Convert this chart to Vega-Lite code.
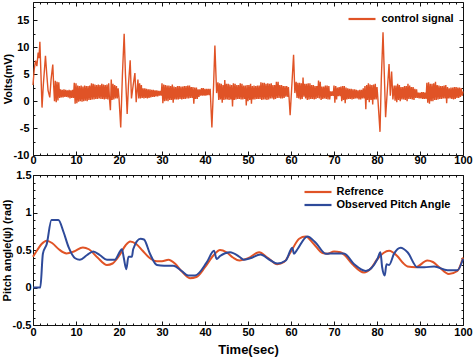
{
  "$schema": "https://vega.github.io/schema/vega-lite/v6.json",
  "padding": {"left": 0, "top": 1, "right": 0, "bottom": 0},
  "spacing": 2,
  "config": {
    "font": "Liberation Sans",
    "view": {"stroke": "#111", "strokeWidth": 1},
    "axis": {"labelFont": "Liberation Sans", "labelFontWeight": "bold", "labelFontSize": 11, "labelColor": "#000", "titleFont": "Liberation Sans", "titleFontWeight": "bold", "titleFontSize": 11, "titleColor": "#000", "tickColor": "#111", "tickWidth": 1, "grid": false, "domain": false, "labelExpr": "'' + datum.value"},
    "legend": {"labelFont": "Liberation Sans", "labelFontWeight": "bold", "labelFontSize": 11, "labelColor": "#000"}
  },
  "datasets": {
    "ctrl": [
      {"t":0,"v":3},{"t":0.3,"v":6},{"t":0.6,"v":7.5},{"t":0.9,"v":6.5},{"t":1.2,"v":9},{"t":1.4,"v":8},{"t":1.6,"v":11},{"t":1.85,"v":5},{"t":2.1,"v":-1.2},{"t":2.4,"v":3},{"t":2.9,"v":8.4},{"t":3.2,"v":5},{"t":3.5,"v":2},{"t":3.9,"v":0.7},{"t":4.2,"v":4},{"t":4.6,"v":6.8},{"t":4.8,"v":3},
      {"t":5.0,"v":0},{"t":5.2,"v":3.8},{"t":5.4,"v":-0.2},{"t":5.6,"v":3.6},{"t":5.8,"v":0.1},{"t":6.0,"v":3.5},{"t":6.2,"v":0.6},{"t":6.4,"v":2.2},{"t":6.6,"v":0.7},{"t":6.8,"v":2.1},{"t":7.0,"v":0.7},{"t":7.2,"v":2.2},{"t":7.4,"v":0.8},{"t":7.6,"v":2.1},{"t":7.8,"v":0.8},{"t":8.0,"v":2.0},{"t":8.2,"v":0.7},{"t":8.4,"v":2.1},{"t":8.6,"v":0.5},{"t":8.8,"v":2.0},{"t":9.0,"v":0.6},{"t":9.2,"v":2.1},{"t":9.4,"v":0.6},{"t":9.6,"v":3.4},{"t":9.8,"v":-0.5},{"t":10.0,"v":3.3},{"t":10.2,"v":-0.4},{"t":10.4,"v":2.9},{"t":10.6,"v":-0.1},{"t":10.8,"v":2.8},{"t":11.0,"v":0},{"t":11.2,"v":2.9},{"t":11.4,"v":-0.1},{"t":11.6,"v":2.7},{"t":11.8,"v":0},{"t":12.0,"v":2.9},{"t":12.2,"v":0.1},{"t":12.4,"v":2.8},{"t":12.6,"v":0},{"t":12.8,"v":2.8},{"t":13.0,"v":0.2},{"t":13.2,"v":2.9},{"t":13.4,"v":0.2},{"t":13.6,"v":3.3},{"t":13.8,"v":0.3},{"t":14.0,"v":3.2},{"t":14.2,"v":0.3},{"t":14.4,"v":3.1},{"t":14.6,"v":0.4},{"t":14.8,"v":3.0},{"t":15.0,"v":0.4},{"t":15.2,"v":3.1},{"t":15.4,"v":0.5},{"t":15.6,"v":3.0},{"t":15.8,"v":0.4},{"t":16.0,"v":3.2},{"t":16.2,"v":0.4},{"t":16.4,"v":3.1},{"t":16.6,"v":0.3},{"t":16.8,"v":3.0},{"t":17.0,"v":0.4},{"t":17.2,"v":3.1},{"t":17.4,"v":0.3},{"t":17.6,"v":3.3},{"t":17.8,"v":0.2},{"t":18.0,"v":-1.7},{"t":18.2,"v":4.0},{"t":18.4,"v":0.2},{"t":18.6,"v":3.2},{"t":18.8,"v":0.3},{"t":19.0,"v":3.0},{"t":19.2,"v":0.5},{"t":19.4,"v":2.8},{"t":19.6,"v":0.5},{"t":19.8,"v":2.4},{"t":20.0,"v":0.6},
      {"t":20.4,"v":-4.9},{"t":20.8,"v":5},{"t":21.2,"v":12.5},{"t":21.5,"v":5},{"t":21.9,"v":-2.4},{"t":22.2,"v":3},{"t":22.6,"v":7.6},{"t":22.9,"v":0.5},{"t":23.3,"v":3},{"t":23.7,"v":5.2},{"t":24.0,"v":-0.2},{"t":24.4,"v":4},{"t":24.6,"v":0.5},{"t":24.8,"v":3.3},
      {"t":25.0,"v":0.5},{"t":25.2,"v":3.0},{"t":25.4,"v":0.6},{"t":25.6,"v":2.4},{"t":25.8,"v":0.5},{"t":26.0,"v":2.4},{"t":26.2,"v":0.6},{"t":26.4,"v":2.3},{"t":26.6,"v":0.5},{"t":26.8,"v":2.2},{"t":27.0,"v":0.6},{"t":27.2,"v":2.2},{"t":27.4,"v":0.7},{"t":27.6,"v":2.1},{"t":27.8,"v":0.8},{"t":28.0,"v":2.1},{"t":28.2,"v":0.8},{"t":28.4,"v":2.0},{"t":28.6,"v":0.9},{"t":28.8,"v":2.0},{"t":29.0,"v":0.9},{"t":29.2,"v":1.9},{"t":29.4,"v":1.0},{"t":29.6,"v":1.9},{"t":29.8,"v":1.0},{"t":30.0,"v":3.3},{"t":30.2,"v":-0.4},{"t":30.4,"v":3.1},{"t":30.6,"v":0.0},{"t":30.8,"v":3.0},{"t":31.0,"v":0.1},{"t":31.2,"v":2.9},{"t":31.4,"v":0.0},{"t":31.6,"v":2.9},{"t":31.8,"v":0.2},{"t":32.0,"v":2.8},{"t":32.2,"v":0.2},{"t":32.4,"v":3.1},{"t":32.6,"v":-0.3},{"t":32.8,"v":2.7},{"t":33.0,"v":0.3},{"t":33.2,"v":2.6},{"t":33.4,"v":0.3},{"t":33.6,"v":2.8},{"t":33.8,"v":0.3},{"t":34.0,"v":2.8},{"t":34.2,"v":0.4},{"t":34.4,"v":2.7},{"t":34.6,"v":0.3},{"t":34.8,"v":2.7},{"t":35.0,"v":0.4},{"t":35.2,"v":2.8},{"t":35.4,"v":0.4},{"t":35.6,"v":2.8},{"t":35.8,"v":0.5},{"t":36.0,"v":2.9},{"t":36.2,"v":0.5},{"t":36.4,"v":2.9},{"t":36.6,"v":0.6},{"t":36.8,"v":2.6},{"t":37.0,"v":0.6},{"t":37.2,"v":2.6},{"t":37.4,"v":-0.5},{"t":37.6,"v":2.5},{"t":37.8,"v":0.4},{"t":38.0,"v":2.5},{"t":38.2,"v":0.4},{"t":38.4,"v":2.2},{"t":38.6,"v":0.8},{"t":38.8,"v":2.2},{"t":39.0,"v":1.0},{"t":39.2,"v":2.4},{"t":39.4,"v":1.0},{"t":39.6,"v":2.4},{"t":39.8,"v":1.0},{"t":40.0,"v":2.3},{"t":40.2,"v":1.0},{"t":40.4,"v":2.3},{"t":40.6,"v":1.1},{"t":40.8,"v":2.3},{"t":41.0,"v":1.1},{"t":41.2,"v":2.3},
      {"t":41.6,"v":-4.9},{"t":42.0,"v":3},{"t":42.3,"v":10.3},{"t":42.7,"v":1.5},
      {"t":43.0,"v":3.5},{"t":43.2,"v":0.2},{"t":43.4,"v":3.3},{"t":43.6,"v":0.3},{"t":43.8,"v":3.2},{"t":44.0,"v":-0.3},{"t":44.2,"v":3.0},{"t":44.4,"v":0.2},{"t":44.6,"v":3.9},{"t":44.8,"v":0.3},{"t":45.0,"v":3.2},{"t":45.2,"v":0.3},{"t":45.4,"v":3.2},{"t":45.6,"v":0.2},{"t":45.8,"v":3.1},{"t":46.0,"v":0.3},{"t":46.2,"v":3.0},{"t":46.4,"v":-1.0},{"t":46.6,"v":3.3},{"t":46.8,"v":0.2},{"t":47.0,"v":3.2},{"t":47.2,"v":0.3},{"t":47.4,"v":3.0},{"t":47.6,"v":0.4},{"t":47.8,"v":3.0},{"t":48.0,"v":0.4},{"t":48.2,"v":3.3},{"t":48.4,"v":0.3},{"t":48.6,"v":3.2},{"t":48.8,"v":0.3},{"t":49.0,"v":2.9},{"t":49.2,"v":0.4},{"t":49.4,"v":2.9},{"t":49.6,"v":-0.8},{"t":49.8,"v":3.0},{"t":50.0,"v":0.0},{"t":50.2,"v":3.0},{"t":50.4,"v":0.2},{"t":50.6,"v":3.2},{"t":50.8,"v":-0.5},{"t":51.0,"v":2.8},{"t":51.2,"v":0.3},{"t":51.4,"v":2.9},{"t":51.6,"v":0.3},{"t":51.8,"v":2.8},{"t":52.0,"v":0.4},{"t":52.2,"v":2.9},{"t":52.4,"v":0.4},{"t":52.6,"v":2.9},{"t":52.8,"v":0.4},{"t":53.0,"v":3.5},{"t":53.2,"v":0.2},{"t":53.4,"v":3.4},{"t":53.6,"v":0.3},{"t":53.8,"v":3.4},{"t":54.0,"v":0.3},{"t":54.2,"v":3.2},{"t":54.4,"v":0.2},{"t":54.6,"v":3.3},{"t":54.8,"v":0.3},{"t":55.0,"v":3.2},{"t":55.2,"v":0.5},{"t":55.4,"v":3.3},{"t":55.6,"v":0.5},{"t":55.8,"v":3.0},{"t":56.0,"v":0.3},{"t":56.2,"v":3.0},{"t":56.4,"v":0.4},{"t":56.6,"v":3.6},{"t":56.8,"v":0.6},{"t":57.0,"v":3.6},{"t":57.2,"v":0.6},{"t":57.4,"v":3.0},{"t":57.6,"v":0.5},{"t":57.8,"v":3.0},{"t":58.0,"v":0.5},{"t":58.2,"v":2.8},{"t":58.4,"v":0.6},{"t":58.6,"v":2.8},{"t":58.8,"v":0.8},{"t":59.0,"v":2.8},{"t":59.2,"v":0.8},{"t":59.4,"v":2.6},
      {"t":59.8,"v":-2.6},{"t":60.2,"v":3},{"t":60.6,"v":8.6},{"t":60.9,"v":1.5},
      {"t":61.2,"v":3.6},{"t":61.4,"v":0.6},{"t":61.6,"v":3.4},{"t":61.8,"v":0.5},{"t":62.0,"v":3.4},{"t":62.2,"v":0.3},{"t":62.4,"v":3.3},{"t":62.6,"v":0.4},{"t":62.8,"v":4.4},{"t":63.0,"v":0.8},{"t":63.2,"v":3.2},{"t":63.4,"v":0.5},{"t":63.6,"v":3.2},{"t":63.8,"v":0.2},{"t":64.0,"v":3.3},{"t":64.2,"v":0.3},{"t":64.4,"v":3.3},{"t":64.6,"v":0.4},{"t":64.8,"v":3.0},{"t":65.0,"v":0.4},{"t":65.2,"v":3.0},{"t":65.4,"v":0.3},{"t":65.6,"v":2.8},{"t":65.8,"v":0.4},{"t":66.0,"v":2.8},{"t":66.2,"v":0.6},{"t":66.4,"v":3.8},{"t":66.6,"v":0.5},{"t":66.8,"v":3.6},{"t":67.0,"v":0.2},{"t":67.2,"v":2.7},{"t":67.4,"v":0.4},{"t":67.6,"v":2.7},{"t":67.8,"v":0.5},{"t":68.0,"v":2.9},{"t":68.2,"v":0.4},{"t":68.4,"v":2.9},{"t":68.6,"v":0.3},{"t":68.8,"v":2.8},{"t":69.0,"v":0.3},{"t":69.2,"v":1.8},{"t":69.4,"v":1.0},{"t":69.6,"v":1.8},{"t":69.8,"v":1.0},{"t":70.0,"v":2.9},{"t":70.2,"v":-0.3},{"t":70.4,"v":2.8},{"t":70.6,"v":0.3},{"t":70.8,"v":2.5},{"t":71.0,"v":0.9},{"t":71.2,"v":2.6},{"t":71.4,"v":0.9},{"t":71.6,"v":2.7},{"t":71.8,"v":0.0},{"t":72.0,"v":2.8},{"t":72.2,"v":0.2},{"t":72.4,"v":2.8},{"t":72.6,"v":-0.4},{"t":72.8,"v":2.5},{"t":73.0,"v":0.3},{"t":73.2,"v":2.4},{"t":73.4,"v":0.4},{"t":73.6,"v":2.3},{"t":73.8,"v":0.4},{"t":74.0,"v":2.3},{"t":74.2,"v":0.3},{"t":74.4,"v":2.2},{"t":74.6,"v":0.4},{"t":74.8,"v":2.2},{"t":75.0,"v":0.5},{"t":75.2,"v":2.1},{"t":75.4,"v":0.5},{"t":75.6,"v":2.0},{"t":75.8,"v":0.3},{"t":76.0,"v":2.1},{"t":76.2,"v":0.3},{"t":76.4,"v":2.1},{"t":76.6,"v":0.5},{"t":76.8,"v":2.4},{"t":77.0,"v":0.5},{"t":77.2,"v":2.8},{"t":77.4,"v":-1.5},{"t":77.6,"v":3.0},{"t":77.8,"v":0.2},{"t":78.0,"v":3.3},{"t":78.2,"v":-0.2},{"t":78.4,"v":3.1},{"t":78.6,"v":0.2},{"t":78.8,"v":3.0},{"t":79.0,"v":-0.6},{"t":79.2,"v":3.1},{"t":79.4,"v":0.3},{"t":79.6,"v":3.2},{"t":79.8,"v":0.3},{"t":80.0,"v":2.6},{"t":80.2,"v":0.5},
      {"t":80.7,"v":-5.7},{"t":81.0,"v":4},{"t":81.4,"v":12.8},{"t":81.7,"v":5},{"t":82.0,"v":-3.0},{"t":82.4,"v":2},{"t":82.8,"v":6.9},{"t":83.1,"v":1.0},{"t":83.4,"v":5.5},{"t":83.7,"v":0.3},
      {"t":84.0,"v":2.9},{"t":84.2,"v":0.1},{"t":84.4,"v":2.9},{"t":84.6,"v":-0.2},{"t":84.8,"v":3.2},{"t":85.0,"v":0.2},{"t":85.2,"v":3.0},{"t":85.4,"v":0.0},{"t":85.6,"v":2.6},{"t":85.8,"v":0.3},{"t":86.0,"v":2.6},{"t":86.2,"v":0.3},{"t":86.4,"v":2.8},{"t":86.6,"v":0.2},{"t":86.8,"v":2.8},{"t":87.0,"v":0.0},{"t":87.2,"v":3.2},{"t":87.4,"v":0.4},{"t":87.6,"v":2.9},{"t":87.8,"v":0.4},{"t":88.0,"v":2.6},{"t":88.2,"v":0.3},{"t":88.4,"v":2.6},{"t":88.6,"v":0.2},{"t":88.8,"v":2.3},{"t":89.0,"v":0.6},{"t":89.2,"v":2.2},{"t":89.4,"v":0.6},{"t":89.6,"v":1.6},{"t":89.8,"v":0.5},{"t":90.0,"v":1.6},{"t":90.2,"v":0.5},{"t":90.4,"v":1.7},{"t":90.6,"v":0.4},{"t":90.8,"v":1.7},{"t":91.0,"v":0.4},{"t":91.2,"v":1.6},{"t":91.4,"v":0.4},{"t":91.6,"v":3.4},{"t":91.8,"v":-0.3},{"t":92.0,"v":3.5},{"t":92.2,"v":-0.5},{"t":92.4,"v":3.2},{"t":92.6,"v":0.0},{"t":92.8,"v":3.2},{"t":93.0,"v":0.0},{"t":93.2,"v":3.3},{"t":93.4,"v":0.2},{"t":93.6,"v":3.6},{"t":93.8,"v":0.2},{"t":94.0,"v":3.0},{"t":94.2,"v":0.3},{"t":94.4,"v":2.9},{"t":94.6,"v":0.4},{"t":94.8,"v":2.8},{"t":95.0,"v":0.4},{"t":95.2,"v":2.8},{"t":95.4,"v":0.5},{"t":95.6,"v":2.9},{"t":95.8,"v":0.5},{"t":96.0,"v":3.0},{"t":96.2,"v":-0.4},{"t":96.4,"v":2.6},{"t":96.6,"v":0.5},{"t":96.8,"v":2.4},{"t":97.0,"v":0.5},{"t":97.2,"v":2.5},{"t":97.4,"v":0.4},{"t":97.6,"v":2.5},{"t":97.8,"v":0.3},{"t":98.0,"v":2.6},{"t":98.2,"v":0.4},{"t":98.4,"v":2.6},{"t":98.6,"v":0.6},{"t":98.8,"v":2.5},{"t":99.0,"v":0.6},{"t":99.2,"v":2.5},{"t":99.4,"v":0.8},{"t":99.6,"v":2.4},{"t":99.8,"v":1.0},{"t":100,"v":1.8}
    ],
    "pitch": [
      {"s":"Refrence","t":0,"v":0.41},{"s":"Refrence","t":1,"v":0.5},{"s":"Refrence","t":2,"v":0.58},{"s":"Refrence","t":3.2,"v":0.625},{"s":"Refrence","t":4.5,"v":0.59},{"s":"Refrence","t":6,"v":0.51},{"s":"Refrence","t":7.8,"v":0.455},{"s":"Refrence","t":9.5,"v":0.48},{"s":"Refrence","t":11.6,"v":0.535},{"s":"Refrence","t":13,"v":0.51},{"s":"Refrence","t":15,"v":0.4},{"s":"Refrence","t":17.2,"v":0.3},{"s":"Refrence","t":18.5,"v":0.32},{"s":"Refrence","t":20,"v":0.42},{"s":"Refrence","t":21.5,"v":0.56},{"s":"Refrence","t":22.6,"v":0.615},{"s":"Refrence","t":24,"v":0.58},{"s":"Refrence","t":25.5,"v":0.49},{"s":"Refrence","t":27,"v":0.4},{"s":"Refrence","t":28.8,"v":0.35},{"s":"Refrence","t":30,"v":0.35},{"s":"Refrence","t":31.5,"v":0.37},{"s":"Refrence","t":33,"v":0.32},{"s":"Refrence","t":34.5,"v":0.22},{"s":"Refrence","t":36.5,"v":0.125},{"s":"Refrence","t":38,"v":0.14},{"s":"Refrence","t":40,"v":0.27},{"s":"Refrence","t":42,"v":0.43},{"s":"Refrence","t":43.5,"v":0.5},{"s":"Refrence","t":45,"v":0.47},{"s":"Refrence","t":46.5,"v":0.4},{"s":"Refrence","t":48,"v":0.36},{"s":"Refrence","t":50,"v":0.39},{"s":"Refrence","t":52.6,"v":0.47},{"s":"Refrence","t":54.5,"v":0.4},{"s":"Refrence","t":56.8,"v":0.31},{"s":"Refrence","t":58.4,"v":0.34},{"s":"Refrence","t":60,"v":0.48},{"s":"Refrence","t":61.9,"v":0.65},{"s":"Refrence","t":63.4,"v":0.68},{"s":"Refrence","t":65.3,"v":0.58},{"s":"Refrence","t":67.3,"v":0.46},{"s":"Refrence","t":68.5,"v":0.45},{"s":"Refrence","t":70,"v":0.48},{"s":"Refrence","t":71.5,"v":0.47},{"s":"Refrence","t":72.5,"v":0.43},{"s":"Refrence","t":74.3,"v":0.31},{"s":"Refrence","t":77,"v":0.2},{"s":"Refrence","t":78.5,"v":0.25},{"s":"Refrence","t":80.1,"v":0.38},{"s":"Refrence","t":81.5,"v":0.46},{"s":"Refrence","t":82.8,"v":0.49},{"s":"Refrence","t":84.7,"v":0.42},{"s":"Refrence","t":86,"v":0.33},{"s":"Refrence","t":87.1,"v":0.28},{"s":"Refrence","t":89,"v":0.27},{"s":"Refrence","t":91.7,"v":0.36},{"s":"Refrence","t":93,"v":0.34},{"s":"Refrence","t":94.5,"v":0.27},{"s":"Refrence","t":96.7,"v":0.18},{"s":"Refrence","t":98.7,"v":0.22},{"s":"Refrence","t":100,"v":0.4},
      {"s":"Observed Pitch Angle","t":0,"v":0},{"s":"Observed Pitch Angle","t":1.7,"v":0},{"s":"Observed Pitch Angle","t":2.3,"v":0.45},{"s":"Observed Pitch Angle","t":3.2,"v":0.58},{"s":"Observed Pitch Angle","t":4.3,"v":0.9},{"s":"Observed Pitch Angle","t":5.9,"v":0.9},{"s":"Observed Pitch Angle","t":7.1,"v":0.74},{"s":"Observed Pitch Angle","t":8.3,"v":0.535},{"s":"Observed Pitch Angle","t":9.8,"v":0.39},{"s":"Observed Pitch Angle","t":10.9,"v":0.37},{"s":"Observed Pitch Angle","t":12.5,"v":0.43},{"s":"Observed Pitch Angle","t":14,"v":0.48},{"s":"Observed Pitch Angle","t":15.6,"v":0.43},{"s":"Observed Pitch Angle","t":17.2,"v":0.37},{"s":"Observed Pitch Angle","t":19,"v":0.37},{"s":"Observed Pitch Angle","t":20.7,"v":0.51},{"s":"Observed Pitch Angle","t":21.1,"v":0.4},{"s":"Observed Pitch Angle","t":21.7,"v":0.245},{"s":"Observed Pitch Angle","t":22.2,"v":0.41},{"s":"Observed Pitch Angle","t":23,"v":0.41},{"s":"Observed Pitch Angle","t":23.3,"v":0.51},{"s":"Observed Pitch Angle","t":25,"v":0.65},{"s":"Observed Pitch Angle","t":25.8,"v":0.64},{"s":"Observed Pitch Angle","t":27.2,"v":0.45},{"s":"Observed Pitch Angle","t":28.8,"v":0.3},{"s":"Observed Pitch Angle","t":30.5,"v":0.29},{"s":"Observed Pitch Angle","t":32.6,"v":0.29},{"s":"Observed Pitch Angle","t":34.6,"v":0.22},{"s":"Observed Pitch Angle","t":36.1,"v":0.16},{"s":"Observed Pitch Angle","t":37.7,"v":0.16},{"s":"Observed Pitch Angle","t":40.4,"v":0.335},{"s":"Observed Pitch Angle","t":42.1,"v":0.49},{"s":"Observed Pitch Angle","t":42.7,"v":0.38},{"s":"Observed Pitch Angle","t":43.5,"v":0.42},{"s":"Observed Pitch Angle","t":45.8,"v":0.47},{"s":"Observed Pitch Angle","t":48,"v":0.41},{"s":"Observed Pitch Angle","t":49,"v":0.37},{"s":"Observed Pitch Angle","t":50.5,"v":0.39},{"s":"Observed Pitch Angle","t":52.9,"v":0.44},{"s":"Observed Pitch Angle","t":55,"v":0.37},{"s":"Observed Pitch Angle","t":56.8,"v":0.32},{"s":"Observed Pitch Angle","t":58.8,"v":0.36},{"s":"Observed Pitch Angle","t":60.3,"v":0.53},{"s":"Observed Pitch Angle","t":60.7,"v":0.45},{"s":"Observed Pitch Angle","t":61.5,"v":0.51},{"s":"Observed Pitch Angle","t":63.8,"v":0.68},{"s":"Observed Pitch Angle","t":65.7,"v":0.6},{"s":"Observed Pitch Angle","t":68.1,"v":0.45},{"s":"Observed Pitch Angle","t":70,"v":0.455},{"s":"Observed Pitch Angle","t":72.3,"v":0.455},{"s":"Observed Pitch Angle","t":74.7,"v":0.31},{"s":"Observed Pitch Angle","t":77.4,"v":0.22},{"s":"Observed Pitch Angle","t":80.1,"v":0.38},{"s":"Observed Pitch Angle","t":80.8,"v":0.47},{"s":"Observed Pitch Angle","t":81.2,"v":0.27},{"s":"Observed Pitch Angle","t":81.8,"v":0.16},{"s":"Observed Pitch Angle","t":82.2,"v":0.31},{"s":"Observed Pitch Angle","t":82.8,"v":0.3},{"s":"Observed Pitch Angle","t":84,"v":0.455},{"s":"Observed Pitch Angle","t":85.5,"v":0.53},{"s":"Observed Pitch Angle","t":87.1,"v":0.47},{"s":"Observed Pitch Angle","t":89.4,"v":0.27},{"s":"Observed Pitch Angle","t":91,"v":0.27},{"s":"Observed Pitch Angle","t":93.3,"v":0.28},{"s":"Observed Pitch Angle","t":96.4,"v":0.23},{"s":"Observed Pitch Angle","t":98.7,"v":0.23},{"s":"Observed Pitch Angle","t":100,"v":0.38}
    ]
  },
  "vconcat": [
    {
      "width": 430, "height": 153,
      "data": {"name": "ctrl"},
      "layer": [
        {
          "mark": {"type": "line", "strokeWidth": 1.4, "interpolate": "linear"},
          "encoding": {
            "x": {"field": "t", "type": "quantitative", "scale": {"domain": [0, 100], "nice": false}, "axis": {"orient": "bottom", "values": [0,10,20,30,40,50,60,70,80,90,100], "tickSize": -4, "labelPadding": 3, "labelFlush": false, "title": null}},
            "y": {"field": "v", "type": "quantitative", "scale": {"domain": [-10, 18.4], "nice": false, "zero": false}, "axis": {"orient": "left", "values": [-10,-5,0,5,10,15], "tickSize": -4, "labelPadding": 8, "title": "Volts(mV)", "titlePadding": 0}},
            "color": {"datum": "control signal", "type": "nominal", "scale": {"range": ["#E05326"]}, "legend": {"orient": "none", "legendX": 321, "legendY": 9, "title": null, "symbolType": "M-2,0L2,0", "symbolSize": 182, "symbolStrokeWidth": 2.2, "labelOffset": 11.5, "padding": 0}}
          }
        },
        {
          "mark": {"type": "line", "opacity": 0},
          "encoding": {
            "x": {"field": "t", "type": "quantitative", "scale": {"domain": [0, 100], "nice": false}, "axis": {"orient": "bottom", "values": [1.67,3.33,5,6.67,8.33,11.67,13.33,15,16.67,18.33,21.67,23.33,25,26.67,28.33,31.67,33.33,35,36.67,38.33,41.67,43.33,45,46.67,48.33,51.67,53.33,55,56.67,58.33,61.67,63.33,65,66.67,68.33,71.67,73.33,75,76.67,78.33,81.67,83.33,85,86.67,88.33,91.67,93.33,95,96.67,98.33], "tickSize": -2, "labels": false, "title": null}},
            "y": {"field": "v", "type": "quantitative", "scale": {"domain": [-10, 18.4], "nice": false, "zero": false}, "axis": {"orient": "left", "values": [-7.5,-2.5,2.5,7.5,12.5,17.5], "tickSize": -2, "labels": false, "title": null}}
          }
        },
        {
          "mark": {"type": "line", "opacity": 0},
          "encoding": {
            "x": {"field": "t", "type": "quantitative", "scale": {"domain": [0, 100], "nice": false}, "axis": {"orient": "top", "values": [0,10,20,30,40,50,60,70,80,90,100], "tickSize": -4, "labels": false, "title": null}},
            "y": {"field": "v", "type": "quantitative", "scale": {"domain": [-10, 18.4], "nice": false, "zero": false}, "axis": {"orient": "right", "values": [-10,-5,0,5,10,15], "tickSize": -4, "labels": false, "title": null}}
          }
        },
        {
          "mark": {"type": "line", "opacity": 0},
          "encoding": {
            "x": {"field": "t", "type": "quantitative", "scale": {"domain": [0, 100], "nice": false}, "axis": {"orient": "top", "values": [1.67,3.33,5,6.67,8.33,11.67,13.33,15,16.67,18.33,21.67,23.33,25,26.67,28.33,31.67,33.33,35,36.67,38.33,41.67,43.33,45,46.67,48.33,51.67,53.33,55,56.67,58.33,61.67,63.33,65,66.67,68.33,71.67,73.33,75,76.67,78.33,81.67,83.33,85,86.67,88.33,91.67,93.33,95,96.67,98.33], "tickSize": -2, "labels": false, "title": null}},
            "y": {"field": "v", "type": "quantitative", "scale": {"domain": [-10, 18.4], "nice": false, "zero": false}, "axis": {"orient": "right", "values": [-7.5,-2.5,2.5,7.5,12.5,17.5], "tickSize": -2, "labels": false, "title": null}}
          }
        }
      ],
      "resolve": {"axis": {"x": "independent", "y": "independent"}}
    },
    {
      "width": 430, "height": 150,
      "data": {"name": "pitch"},
      "layer": [
        {
          "mark": {"type": "line", "strokeWidth": 2, "interpolate": "monotone"},
          "encoding": {
            "x": {"field": "t", "type": "quantitative", "scale": {"domain": [0, 100], "nice": false}, "axis": {"orient": "bottom", "values": [0,10,20,30,40,50,60,70,80,90,100], "tickSize": -4, "labelPadding": 5, "labelFlush": false, "title": "Time(sec)", "titleFontSize": 13, "titlePadding": 6}},
            "y": {"field": "v", "type": "quantitative", "scale": {"domain": [-0.5, 1.5], "nice": false, "zero": false}, "axis": {"orient": "left", "values": [-0.5,0,0.5,1,1.5], "tickSize": -4, "labelPadding": 6, "title": "Pitch angle(ψ) (rad)", "titlePadding": 0}},
            "color": {"field": "s", "type": "nominal", "scale": {"domain": ["Refrence", "Observed Pitch Angle"], "range": ["#E05326", "#2E4A9A"]}, "legend": {"orient": "none", "legendX": 277, "legendY": 9, "title": null, "symbolType": "M-2,0L2,0", "symbolSize": 182, "symbolStrokeWidth": 2.2, "labelOffset": 10.5, "padding": 0, "rowPadding": 0}}
          }
        },
        {
          "mark": {"type": "line", "opacity": 0},
          "encoding": {
            "x": {"field": "t", "type": "quantitative", "scale": {"domain": [0, 100], "nice": false}, "axis": {"orient": "bottom", "values": [1.67,3.33,5,6.67,8.33,11.67,13.33,15,16.67,18.33,21.67,23.33,25,26.67,28.33,31.67,33.33,35,36.67,38.33,41.67,43.33,45,46.67,48.33,51.67,53.33,55,56.67,58.33,61.67,63.33,65,66.67,68.33,71.67,73.33,75,76.67,78.33,81.67,83.33,85,86.67,88.33,91.67,93.33,95,96.67,98.33], "tickSize": -2, "labels": false, "title": null}},
            "y": {"field": "v", "type": "quantitative", "scale": {"domain": [-0.5, 1.5], "nice": false, "zero": false}, "axis": {"orient": "left", "values": [-0.4,-0.3,-0.2,-0.1,0.1,0.2,0.3,0.4,0.6,0.7,0.8,0.9,1.1,1.2,1.3,1.4], "tickSize": -2, "labels": false, "title": null}},
            "detail": {"field": "s"}
          }
        },
        {
          "mark": {"type": "line", "opacity": 0},
          "encoding": {
            "x": {"field": "t", "type": "quantitative", "scale": {"domain": [0, 100], "nice": false}, "axis": {"orient": "top", "values": [0,10,20,30,40,50,60,70,80,90,100], "tickSize": -4, "labels": false, "title": null}},
            "y": {"field": "v", "type": "quantitative", "scale": {"domain": [-0.5, 1.5], "nice": false, "zero": false}, "axis": {"orient": "right", "values": [-0.5,0,0.5,1,1.5], "tickSize": -4, "labels": false, "title": null}},
            "detail": {"field": "s"}
          }
        },
        {
          "mark": {"type": "line", "opacity": 0},
          "encoding": {
            "x": {"field": "t", "type": "quantitative", "scale": {"domain": [0, 100], "nice": false}, "axis": {"orient": "top", "values": [1.67,3.33,5,6.67,8.33,11.67,13.33,15,16.67,18.33,21.67,23.33,25,26.67,28.33,31.67,33.33,35,36.67,38.33,41.67,43.33,45,46.67,48.33,51.67,53.33,55,56.67,58.33,61.67,63.33,65,66.67,68.33,71.67,73.33,75,76.67,78.33,81.67,83.33,85,86.67,88.33,91.67,93.33,95,96.67,98.33], "tickSize": -2, "labels": false, "title": null}},
            "y": {"field": "v", "type": "quantitative", "scale": {"domain": [-0.5, 1.5], "nice": false, "zero": false}, "axis": {"orient": "right", "values": [-0.4,-0.3,-0.2,-0.1,0.1,0.2,0.3,0.4,0.6,0.7,0.8,0.9,1.1,1.2,1.3,1.4], "tickSize": -2, "labels": false, "title": null}},
            "detail": {"field": "s"}
          }
        }
      ],
      "resolve": {"axis": {"x": "independent", "y": "independent"}}
    }
  ],
  "resolve": {"scale": {"color": "independent"}, "legend": {"color": "independent"}}
}
